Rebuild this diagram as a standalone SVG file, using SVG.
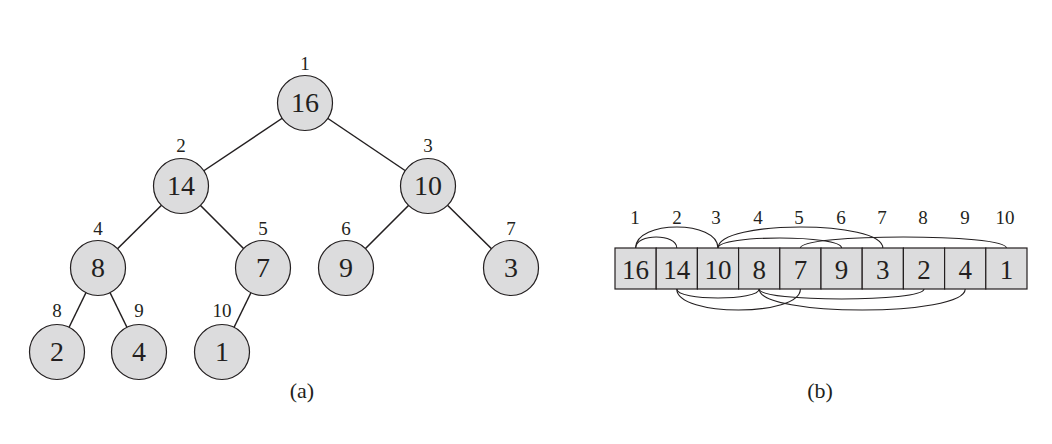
<svg xmlns="http://www.w3.org/2000/svg" width="1052" height="444" viewBox="0 0 1052 444">
<style>
.bg{fill:#ffffff}
.edge{stroke:#231f20;stroke-width:1.5;fill:none}
.arc{stroke:#231f20;stroke-width:1.1;fill:none}
.node circle{fill:#dcdcdd;stroke:#231f20;stroke-width:1.2}
.cell{fill:#dcdcdd;stroke:#231f20;stroke-width:1.2}
text{font-family:'Liberation Serif','Times New Roman',Tinos,Times,serif;fill:#231f20;text-anchor:middle}
.val{font-size:28px}
.aval{font-size:27px}
.idx{font-size:19px}
.cap{font-size:22px}
</style>
<rect class="bg" x="0" y="0" width="1052" height="444"/>
<g id="connectors">
<line class="edge" x1="305" y1="103" x2="181" y2="186"/>
<line class="edge" x1="305" y1="103" x2="428" y2="186"/>
<line class="edge" x1="181" y1="186" x2="98" y2="268"/>
<line class="edge" x1="181" y1="186" x2="263" y2="268"/>
<line class="edge" x1="428" y1="186" x2="346" y2="268"/>
<line class="edge" x1="428" y1="186" x2="511" y2="268"/>
<line class="edge" x1="98" y1="268" x2="57" y2="352"/>
<line class="edge" x1="98" y1="268" x2="139" y2="352"/>
<line class="edge" x1="263" y1="268" x2="222" y2="352"/>
</g>
<g id="node1" class="node"><circle cx="305" cy="103" r="27.5"/><text class="val" x="305" y="112" font-family="Liberation Serif">16</text><text class="idx" x="305" y="70">1</text></g>
<g id="node2" class="node"><circle cx="181" cy="186" r="27.5"/><text class="val" x="181" y="195">14</text><text class="idx" x="181" y="152">2</text></g>
<g id="node3" class="node"><circle cx="428" cy="186" r="27.5"/><text class="val" x="428" y="195">10</text><text class="idx" x="428" y="152">3</text></g>
<g id="node4" class="node"><circle cx="98" cy="268" r="27.5"/><text class="val" x="98" y="277">8</text><text class="idx" x="98" y="235">4</text></g>
<g id="node5" class="node"><circle cx="263" cy="268" r="27.5"/><text class="val" x="263" y="277">7</text><text class="idx" x="263" y="235">5</text></g>
<g id="node6" class="node"><circle cx="346" cy="268" r="27.5"/><text class="val" x="346" y="277">9</text><text class="idx" x="346" y="235">6</text></g>
<g id="node7" class="node"><circle cx="511" cy="268" r="27.5"/><text class="val" x="511" y="277">3</text><text class="idx" x="511" y="235">7</text></g>
<g id="node8" class="node"><circle cx="57" cy="352" r="27.5"/><text class="val" x="57" y="361">2</text><text class="idx" x="57" y="317">8</text></g>
<g id="node9" class="node"><circle cx="139" cy="352" r="27.5"/><text class="val" x="139" y="361">4</text><text class="idx" x="139" y="317">9</text></g>
<g id="node10" class="node"><circle cx="222" cy="352" r="27.5"/><text class="val" x="222" y="361">1</text><text class="idx" x="222" y="317">10</text></g>
<text class="cap" x="302" y="398">(a)</text>
<g id="array">
<rect class="cell" x="615" y="248" width="41.2" height="41"/>
<rect class="cell" x="656.2" y="248" width="41.2" height="41"/>
<rect class="cell" x="697.4" y="248" width="41.2" height="41"/>
<rect class="cell" x="738.6" y="248" width="41.2" height="41"/>
<rect class="cell" x="779.8" y="248" width="41.2" height="41"/>
<rect class="cell" x="821" y="248" width="41.2" height="41"/>
<rect class="cell" x="862.2" y="248" width="41.2" height="41"/>
<rect class="cell" x="903.4" y="248" width="41.2" height="41"/>
<rect class="cell" x="944.6" y="248" width="41.2" height="41"/>
<rect class="cell" x="985.8" y="248" width="41.2" height="41"/>
<text class="aval" x="635.6" y="279">16</text>
<text class="aval" x="676.8" y="279">14</text>
<text class="aval" x="718" y="279">10</text>
<text class="aval" x="759.2" y="279">8</text>
<text class="aval" x="800.4" y="279">7</text>
<text class="aval" x="841.6" y="279">9</text>
<text class="aval" x="882.8" y="279">3</text>
<text class="aval" x="924" y="279">2</text>
<text class="aval" x="965.2" y="279">4</text>
<text class="aval" x="1006.4" y="279">1</text>
<text class="idx" x="635" y="224">1</text>
<text class="idx" x="677" y="224">2</text>
<text class="idx" x="716" y="224">3</text>
<text class="idx" x="758" y="224">4</text>
<text class="idx" x="799" y="224">5</text>
<text class="idx" x="841" y="224">6</text>
<text class="idx" x="882" y="224">7</text>
<text class="idx" x="923" y="224">8</text>
<text class="idx" x="965" y="224">9</text>
<text class="idx" x="1005" y="224">10</text>
</g>
<g id="array-connectors">
<path class="arc" d="M635.6 248 C635.6 233.3 676.8 233.3 676.8 248"/>
<path class="arc" d="M635.6 248 C635.6 220 718 220 718 248"/>
<path class="arc" d="M718 248 C718 234.7 841.6 234.7 841.6 248"/>
<path class="arc" d="M718 248 C718 220 882.8 220 882.8 248"/>
<path class="arc" d="M800.4 248 C800.4 233.3 1006.4 233.3 1006.4 248"/>
<path class="arc" d="M676.8 289 C676.8 301 759.2 301 759.2 289"/>
<path class="arc" d="M676.8 289 C676.8 317 800.4 317 800.4 289"/>
<path class="arc" d="M759.2 289 C759.2 302.3 924 302.3 924 289"/>
<path class="arc" d="M759.2 289 C759.2 317 965.2 317 965.2 289"/>
</g>
<text class="cap" x="820" y="398">(b)</text>
</svg>
